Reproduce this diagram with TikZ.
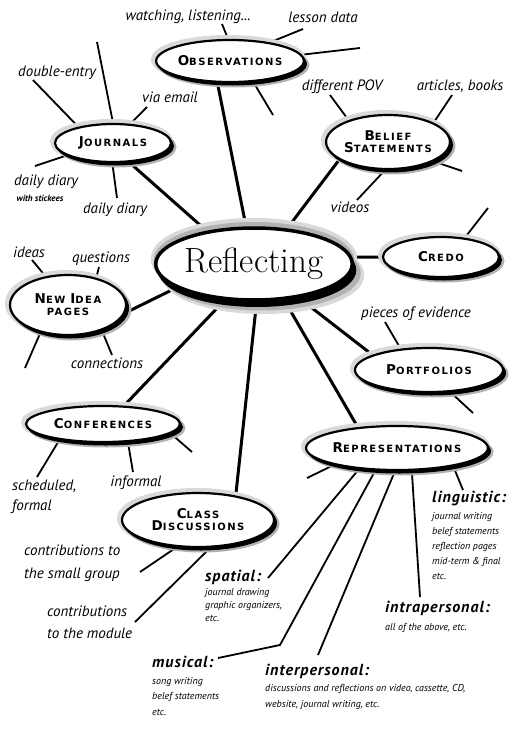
\documentclass[tikz,border=0pt]{standalone}
\usepackage{fontspec}
\usetikzlibrary{shapes.geometric,shadows,backgrounds}
\newfontfamily\hand{PT Sans}
\newfontfamily\capsf{DejaVu Sans}[LetterSpace=15]
\newfontfamily\headf{PT Sans}[LetterSpace=6]
\newcommand\fsc[2]{{\fontsize{13.5}{15}\selectfont #1}{\fontsize{10}{15}\selectfont #2}}
\tikzset{
  bubble/.style={ellipse, draw=black, line width=2.2pt, fill=white, inner sep=0pt, align=center,
    font=\capsf\bfseries,
    general shadow={draw=gray!30, fill=gray!30, line width=7pt, shadow xshift=-1.5pt, shadow yshift=1.5pt},
    general shadow={draw=gray!60, fill=gray!60, line width=3pt, shadow xshift=4pt, shadow yshift=-4pt},
    general shadow={draw=black, fill=black, line width=1pt, shadow xshift=2.5pt, shadow yshift=-3pt}},
  hub/.style={ellipse, draw=black, line width=3.5pt, fill=white, inner sep=0pt, align=center,
    general shadow={draw=gray!30, fill=gray!30, line width=10pt, shadow xshift=0pt, shadow yshift=5pt},
    general shadow={draw=gray!30, fill=gray!30, line width=6pt, shadow xshift=9pt, shadow yshift=-11pt},
    general shadow={draw=gray!60, fill=gray!60, line width=4pt, shadow xshift=0pt, shadow yshift=4pt},
    general shadow={draw=gray!60, fill=gray!60, line width=3pt, shadow xshift=7pt, shadow yshift=-9pt},
    general shadow={draw=black, fill=black, line width=2pt, shadow xshift=3pt, shadow yshift=-6pt}},
  spoke/.style={line width=3pt},
  twig/.style={line width=1.8pt},
  lab/.style={anchor=base, inner sep=0pt, font=\hand\itshape\fontsize{15}{20}\selectfont},
  blk/.style={anchor=north west, inner sep=0pt, align=left},
  mihead/.style={anchor=base west, inner sep=0pt, font=\headf\bfseries\itshape\fontsize{16}{18}\selectfont},
  mibody/.style={anchor=north west, inner sep=0pt, align=left},
}
\begin{document}
\begin{tikzpicture}[x=1pt,y=-1pt]
\useasboundingbox (0,0) rectangle (521,736);

% ---------- bubbles ----------
\node[hub, minimum width=196pt, minimum height=72pt, font=\fontsize{35}{38}\selectfont] (refl) at (254,264) {Reflecting};
\node[bubble, minimum width=124pt, minimum height=42pt] (obs) at (230,61) {\fsc{O}{BSERVATIONS}};
\node[bubble, minimum width=116pt, minimum height=38pt] (jour) at (113,143) {\fsc{J}{OURNALS}};
\node[bubble, minimum width=114pt, minimum height=54pt] (bel) at (388,142) {\fsc{B}{ELIEF}\\\fsc{S}{TATEMENTS}};
\node[bubble, minimum width=116pt, minimum height=40pt] (credo) at (441,257) {\fsc{C}{REDO}};
\node[bubble, minimum width=116pt, minimum height=60pt] (newidea) at (68,305) {\fsc{N}{EW} \fsc{I}{DEA}\\\fsc{}{PAGES}};
\node[bubble, minimum width=148pt, minimum height=44pt] (port) at (429,370) {\fsc{P}{ORTFOLIOS}};
\node[bubble, minimum width=154pt, minimum height=36pt] (conf) at (103,424) {\fsc{C}{ONFERENCES}};
\node[bubble, minimum width=172pt, minimum height=44pt] (rep) at (397,448) {\fsc{R}{EPRESENTATIONS}};
\node[bubble, minimum width=152pt, minimum height=54pt] (class) at (198,520) {\fsc{C}{LASS}\\\fsc{D}{ISCUSSIONS}};

% ---------- labels ----------
\node[lab] (lwatch) at (188,20) {watching, listening...};
\node[lab] (llesson) at (323,23) {lesson data};
\node[lab] (ldouble) at (57,76) {double-entry};
\node[lab] (lemail) at (170,102) {via email};
\node[lab] (ldiary1) at (46,185) {daily diary};
\node[anchor=base, inner sep=0pt, font=\hand\bfseries\itshape\fontsize{9}{10}\selectfont] (lstick) at (40,201) {with stickees};
\node[lab] (ldiary2) at (115,213) {daily diary};
\node[lab] (lpov) at (342,90) {different POV};
\node[lab] (larticles) at (460,90) {articles, books};
\node[lab] (lvideos) at (350,212) {videos};
\node[lab] (lideas) at (29,257) {ideas};
\node[lab] (lquest) at (101,262) {questions};
\node[lab] (lconn) at (107,368) {connections};
\node[lab] (lpieces) at (416,317) {pieces of evidence};
\node[lab, blk, font=\hand\itshape\fontsize{15}{20}\selectfont] (lsched) at (12,480) {scheduled,\\formal};
\node[lab] (linformal) at (136,486) {informal};
\node[lab, blk, font=\hand\itshape\fontsize{15}{23}\selectfont] (lsmall) at (24,545) {contributions to\\the small group};
\node[lab, blk, font=\hand\itshape\fontsize{15}{22}\selectfont] (lmodule) at (47,606) {contributions\\to the module};

% multiple intelligences
\node[mihead] (hspatial) at (205,581) {spatial:};
\node[mibody, font=\hand\itshape\fontsize{10}{13}\selectfont] (bspatial) at (205,588) {journal drawing\\graphic organizers,\\etc.};
\node[mihead] (hling) at (432,502) {linguistic:};
\node[mibody, font=\hand\itshape\fontsize{10}{15}\selectfont] (bling) at (432,512) {journal writing\\belef statements\\reflection pages\\mid-term \& final\\etc.};
\node[mihead] (hintra) at (385,612) {intrapersonal:};
\node[mibody, font=\hand\itshape\fontsize{10}{13}\selectfont] (bintra) at (385,623) {all of the above, etc.};
\node[mihead] (hinter) at (265,675) {interpersonal:};
\node[mibody, font=\hand\itshape\fontsize{10}{16}\selectfont] (binter) at (265,684) {discussions and reflections on video, cassette, CD,\\website, journal writing, etc.};
\node[mihead] (hmus) at (152,667) {musical:};
\node[mibody, font=\hand\itshape\fontsize{10}{15.5}\selectfont] (bmus) at (152,677) {song writing\\belef statements\\etc.};

% ---------- connector ends ----------
\coordinate (oa) at (222,24); \coordinate (ob) at (303,29); \coordinate (oc) at (360,48); \coordinate (od) at (273,115);
\coordinate (ja) at (97,42); \coordinate (jb) at (33,80); \coordinate (jc) at (147,107); \coordinate (jd) at (35,166); \coordinate (je) at (117,198);
\coordinate (ba) at (330,95); \coordinate (bb) at (452,95); \coordinate (bc) at (462,171); \coordinate (bd) at (357,200);
\coordinate (ca) at (488,208);
\coordinate (na) at (32,260); \coordinate (nb) at (99,267); \coordinate (nc) at (25,368); \coordinate (nd) at (112,355);
\coordinate (pa) at (385,322); \coordinate (pb) at (473,413);
\coordinate (fa) at (192,452); \coordinate (fb) at (37,477); \coordinate (fc) at (133,472);
\coordinate (da) at (140,572); \coordinate (db) at (135,622);
\coordinate (ra) at (307,478); \coordinate (rb) at (268,578); \coordinate (rc1) at (280,645); \coordinate (rc) at (218,658);
\coordinate (rd) at (318,655); \coordinate (re) at (420,597); \coordinate (rf) at (463,490);

% ---------- connectors ----------
\begin{scope}[on background layer]
\draw[spoke] (refl.102) -- (obs.240);
\draw[spoke] (refl.145) -- (jour.-50);
\draw[spoke] (refl.47) -- (bel.200);
\draw[spoke] (refl.4) -- (credo.180);
\draw[spoke] (refl.197) -- (newidea.-8);
\draw[spoke] (refl.-37) -- (port.165);
\draw[spoke] (refl.-50) -- (rep.152);
\draw[spoke] (refl.231) -- (conf.41);
\draw[spoke] (refl.-86) -- (class.33);

\draw[twig] (obs.95) -- (oa);
\draw[twig] (obs.25) -- (ob);
\draw[twig] (obs.5) -- (oc);
\draw[twig] (obs.-42) -- (od);
\draw[twig] (jour.90) -- (ja);
\draw[twig] (jour.155) -- (jb);
\draw[twig] (jour.48) -- (jc);
\draw[twig] (jour.195) -- (jd);
\draw[twig] (jour.268) -- (je);
\draw[twig] (bel.151) -- (ba);
\draw[twig] (bel.23) -- (bb);
\draw[twig] (bel.-23) -- (bc);
\draw[twig] (bel.264) -- (bd);
\draw[twig] (credo.39) -- (ca);
\draw[twig] (newidea.128) -- (na);
\draw[twig] (newidea.44) -- (nb);
\draw[twig] (newidea.225) -- (nc);
\draw[twig] (newidea.-37) -- (nd);
\draw[twig] (port.143) -- (pa);
\draw[twig] (port.-46) -- (pb);
\draw[twig] (conf.-8) -- (fa);
\draw[twig] (conf.200) -- (fb);
\draw[twig] (conf.-36) -- (fc);
\draw[twig] (class.232) -- (da);
\draw[twig] (class.294) -- (db);
\draw[twig] (rep.195) -- (ra);
\draw[twig] (rep.209) -- (rb);
\draw[twig] (rep.226) -- (rc1) -- (rc);
\draw[twig] (rep.265) -- (rd);
\draw[twig] (rep.303) -- (re);
\draw[twig] (rep.-18) -- (rf);
\end{scope}
\end{tikzpicture}
\end{document}
